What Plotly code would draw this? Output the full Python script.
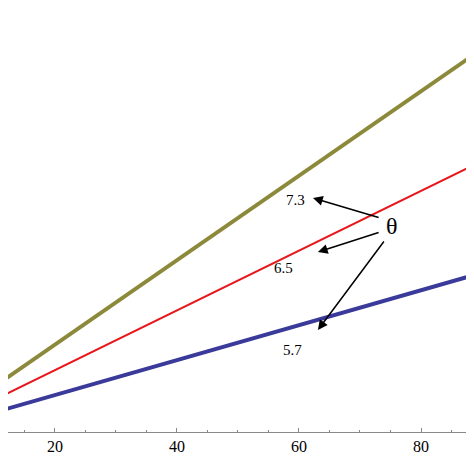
import plotly.graph_objects as go

x_vals = [0, 95]
olive_y = [3, 404]
red_y = [2, 286]
blue_y = [2, 168]

theta_labels = ["7.3", "6.5", "5.7"]
label_pos = [(59.5, 232), (57.5, 164), (58.9, 82)]
arrow_heads = [(62.3, 234), (63.1, 180), (63.1, 102)]
arrow_tails = [(73.3, 214), (73.3, 200), (74.1, 192)]

fig = go.Figure()
fig.add_trace(go.Scatter(x=x_vals, y=olive_y, mode="lines", line=dict(color="#8c8a3a", width=4)))
fig.add_trace(go.Scatter(x=x_vals, y=red_y, mode="lines", line=dict(color="#e8161b", width=2)))
fig.add_trace(go.Scatter(x=x_vals, y=blue_y, mode="lines", line=dict(color="#3a3a9a", width=4)))

for (hx, hy), (tx, ty) in zip(arrow_heads, arrow_tails):
    fig.add_annotation(x=hx, y=hy, ax=tx, ay=ty, xref="x", yref="y", axref="x", ayref="y",
                       showarrow=True, arrowhead=2, arrowsize=1.3, arrowwidth=1.5,
                       arrowcolor="black", text="")
for lab, (lx, ly) in zip(theta_labels, label_pos):
    fig.add_annotation(x=lx, y=ly, text=lab, showarrow=False, font=dict(size=15))
fig.add_annotation(x=75.3, y=206, text="θ", showarrow=False, font=dict(size=24))

fig.update_layout(
    width=474, height=474, showlegend=False,
    margin=dict(l=0, r=0, t=0, b=50),
    plot_bgcolor="white", paper_bgcolor="white",
    font=dict(family="Liberation Serif", color="black", size=16),
    xaxis=dict(range=[12.3, 90.0], tickvals=[20, 40, 60, 80], showgrid=False, zeroline=False,
               showline=True, linecolor="#888", ticks="inside", ticklen=4, tickcolor="#888",
               minor=dict(dtick=5, tick0=0, ticks="inside", ticklen=2, tickcolor="#888")),
    yaxis=dict(range=[0, 424], visible=False),
)
fig.write_html("out.html")
